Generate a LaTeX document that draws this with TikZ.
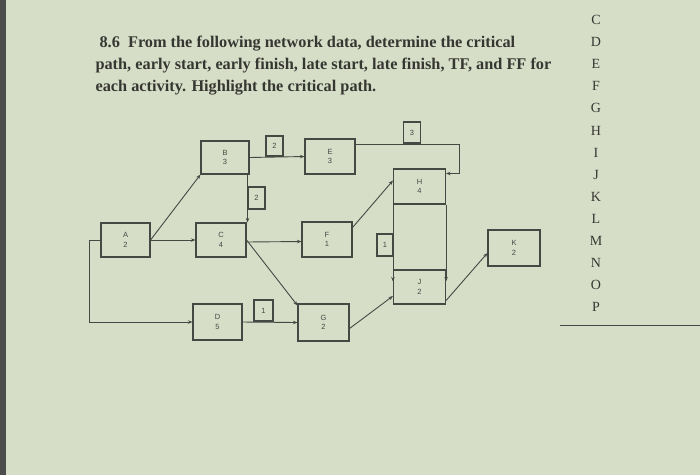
\documentclass[tikz,border=0pt]{standalone}
\usepackage{fontspec}
\setmainfont{Liberation Serif}
\newfontfamily\lab{Liberation Sans}
\usetikzlibrary{arrows.meta}
\definecolor{bg}{RGB}{214,222,200}
\definecolor{ink}{RGB}{70,72,68}
\definecolor{txt}{RGB}{55,55,50}
\begin{document}
\begin{tikzpicture}[x=1pt,y=-1pt,
  act/.style={draw=ink,line width=1.1pt,minimum width=49pt,minimum height=34pt,inner sep=0pt,align=center,font=\lab\fontsize{7.5}{9.5}\selectfont,text=ink},
  lag/.style={draw=ink,line width=1.1pt,minimum width=17pt,minimum height=20pt,inner sep=0pt,font=\lab\fontsize{7.5}{9}\selectfont,text=ink},
  conn/.style={draw=ink,line width=0.9pt,-{Stealth[length=4.5pt,width=3.5pt]}},
  ltr/.style={font=\fontsize{14}{16}\selectfont,text=txt},
  qt/.style={anchor=west,text=txt,font=\bfseries\fontsize{16.3}{18}\selectfont}]
\fill[bg] (0,0) rectangle (700,475);
\fill[black!70] (0,0) rectangle (6,475);
\useasboundingbox (0,0) rectangle (700,475);
% question text
\node[qt] (l1) at (96,44) {8.6\ \ From the following network data, determine the critical};
\node[qt] (l2) at (92,66) {path, early start, early finish, late start, late finish, TF, and FF for};
\node[qt] (l3) at (92,88) {each activity. Highlight the critical path.};
% right letters
\foreach \L [count=\i from 0] in {C,D,E,F,G,H,I,J,K,L,M,N,O,P}
  \node[ltr] (r\L) at (596,20+\i*22.1) {\L};
\coordinate (ra) at (560,325); \coordinate (rb) at (700,325);
\draw[ink,line width=1pt] (ra) -- (rb);
% activities
\node[act,minimum width=49pt] (A) at (125.5,240) {A\\2};
\node[act,minimum width=48pt,minimum height=33pt] (B) at (225,157.5) {B\\3};
\node[act,minimum width=50pt] (C) at (221,240) {C\\4};
\node[act,minimum width=50pt,minimum height=35pt] (E) at (330,156.5) {E\\3};
\node[act,minimum width=50pt,minimum height=35pt] (F) at (327,239.5) {F\\1};
\node[act,minimum width=49pt,minimum height=36pt] (D) at (217.5,322) {D\\5};
\node[act,minimum width=51pt,minimum height=37pt] (G) at (323.5,322.5) {G\\2};
\node[act,minimum width=52pt,minimum height=35pt] (H) at (419.5,186.5) {H\\4};
\node[act,minimum width=52pt,minimum height=34pt] (J) at (419.5,287) {J\\2};
\node[act,minimum width=52pt,minimum height=36pt] (K) at (514,248) {K\\2};
% lag boxes
\node[lag] (g1) at (274.5,146) {2};
\node[lag,minimum height=21pt] (g2) at (412,132.5) {3};
\node[lag,minimum height=22pt] (g3) at (256.5,198) {2};
\node[lag,minimum width=16pt,minimum height=22pt] (g4) at (385,245) {1};
\node[lag,minimum width=19pt,minimum height=21pt] (g5) at (263.5,310.5) {1};
% connectors
\draw[conn] (A.east) -- (B.south west);
\draw[conn] (A.east) -- (C.west);
\draw[conn] (A.west) -- ++(-11,0) |- (D.west);
\draw[conn] (B.east) -- (E.west);
\draw[conn] ([xshift=-2pt]B.south east) -- ([xshift=1pt]C.north east);
\draw[conn] ([yshift=12pt]E.east) -- ++(104,0) |- ([yshift=13pt]H.east);
\draw[conn] ([yshift=-2pt]C.east) -- ([yshift=-2pt]F.west);
\draw[conn] (C.east) -- ([yshift=-2pt]G.north west);
\draw[conn] (D.east) -- (G.west);
\draw[conn] ([yshift=12pt]F.east) -- ([yshift=6pt]H.west);
\draw[conn] ([yshift=-6pt]G.east) -- ([yshift=-9pt]J.west);
\draw[conn] (H.south west) -- ([yshift=-12pt]J.north west);
\draw[conn] (H.south east) -- ([yshift=-12pt]J.north east);
\draw[conn] ([yshift=4pt]J.south east) -- ([yshift=-5pt]K.west);
\end{tikzpicture}
\end{document}
